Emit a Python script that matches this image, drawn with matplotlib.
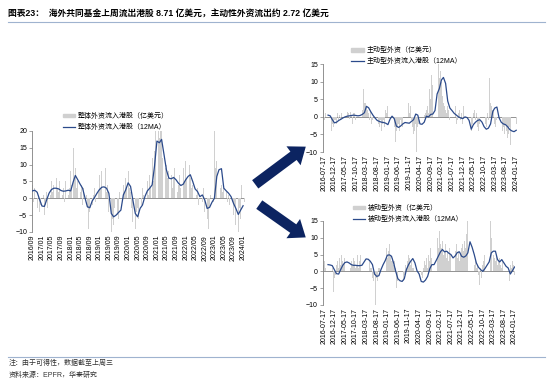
import numpy as np
import pandas as pd
import matplotlib
matplotlib.use("Agg")
import matplotlib.pyplot as plt
from matplotlib.patches import Patch, FancyArrowPatch
from matplotlib.lines import Line2D

plt.rcParams['font.family'] = ['Liberation Sans', 'Noto Sans CJK SC']

title = "图表23：  海外共同基金上周流出港股 8.71 亿美元，主动性外资流出约 2.72 亿美元"
note1 = "注：由于可得性，数据截至上周三"
note2 = "资料来源：EPFR，华泰研究"

# left chart: 整体外资, monthly 12MA from 2016/09, half-month bars
left_ma = [2.2, 2.4, 1.8, -0.3, -2.3, -2.4, -0.5, 1.5, 2.6, 3.0, 3.0, 2.8,
           2.3, 2.1, 2.2, 2.4, 2.2, 4.8, 6.8, 5.5, 4.2, 3.0, 0.2, -2.5,
           -2.8, -0.8, 0.3, 1.5, 2.6, 3.3, 3.4, 3.0, 1.5, -4.5, -5.5, -5.0,
           -4.2, -3.5, 1.0, 2.5, 4.6, 3.5, -0.5, -4.5, -5.5, -3.0, -2.0, 0.5,
           2.2, 3.0, 4.0, 9.5, 17.0, 16.5, 17.5, 13.0, 8.5, 6.0, 5.8, 6.2,
           5.5, 4.5, 3.8, 4.2, 5.5, 6.5, 7.0, 5.0, 2.8, 2.0, 0.5, 1.0,
           -0.5, -3.0, -2.7, -1.2, 0.0, 6.5, 8.5, 8.8, 3.0, 2.2, 1.5, 0.5,
           -1.5, -3.0, -4.8, -3.5, -2.2]
left_bar = [4, -1, 3, 2, -3, 1, -4, -2, -9, 1, -5, -2, 2, -3, 3, 1, 5, 2, 4, 1,
            6, 3, 2, 5, 4, 1, 3, -1, 5, 2, 1, 3, 8, 4, 15, 6, 9, 3, 5, 7,
            2, 4, -2, 3, -5, 1, -3, -9, -4, 2, -2, 1, 3, -1, 4, 2, 7, 3, 8, 2,
            5, 9, 2, 4, -4, 1, -10, -6, -8, -3, -9, -5, -6, 2, 1, -2, 4, 2, 6, 3,
            8, 3, 2, -3, -7, -10, -9, -4, -3, -6, 1, -2, 3, 1, 4, 2, 5, 1, 7, 3,
            12, 5, 14, 20, 22, 20, 18, 22, 20, 12, 15, 9, 10, 6, 8, 4, 7, 3, 6, 9,
            5, 2, 4, 7, 3, 6, 9, 5, 11, 6, 8, 10, 6, 3, 4, 2, 5, 1, 3, -2,
            2, 1, -1, 3, -4, -2, -6, -9, -3, 1, 2, -1, 20, 9, 11, 6, 7, 3, 4, 2,
            3, 1, 2, -1, 1, -2, -3, -1, -5, -2, -8, -4, -10, -3, -6, 4, -3, -1]
left_ticks = ["2016/09", "2017/01", "2017/05", "2017/09", "2018/01", "2018/05",
              "2018/09", "2019/01", "2019/05", "2019/09", "2020/01", "2020/05",
              "2020/09", "2021/01", "2021/05", "2021/09", "2022/01", "2022/05",
              "2022/09", "2023/01", "2023/05", "2023/09", "2024/01"]

# top right: 主动型外资, bars monthly pairs from 2016-07, line from 2016-09
act_ma = [0.5, 0.3, -0.8, -1.7, -1.5, -1.0, -0.7, -0.3, 0.0, 0.2,
          0.3, 0.4, 0.5, 0.4, 0.3, 0.4, 0.7, 1.2, 3.0, 2.6, 1.5, 0.5,
          -0.3, -1.0, -1.3, -1.5, -1.6, -1.8, -2.2, -0.6, 0.2, -0.5, -2.6, -3.0,
          -2.6, -2.0, -1.6, -1.7, -1.8, -1.3, -0.8, 0.8, 0.5, -2.0, -2.1, -1.5,
          0.2, 0.0, 0.7, 0.8, 1.8, 6.5, 8.0, 10.5, 11.2, 9.5, 4.5, 2.5,
          1.8, 1.0, 0.5, 0.0, -0.3, -0.5, 0.0, -0.2, -1.0, -3.5, -2.2, -1.5,
          -1.0, -0.8, -1.5, -2.8, -3.5, -3.2, -2.0, 1.5, 2.5, 2.8, -0.2, -1.5,
          -2.0, -2.2, -2.8, -3.6, -4.0, -4.2, -3.8]
act_bar = [1, 2, -1, 1, 2, -1, -2, 0.5, -4, -2, -3, -1, -1, -2, 1, -1, 0.5, -0.5, 1, 0.5,
           2, 1, 0.5, 1.5, 1, -0.5, 1.5, 0.5, -2, 1, 1, -1, 2, 0.5, 1, -1,
           3, 2, 8, 4, 4, 3, 2, 1, -1, 1.5, -2, -1, -3, -2, -4, -1, -2, -3,
           -1, -4, -2, -1, -3, 2, 1, 3, 2, -1, -4, -2, -5, -3, -7, -4, -3, -2,
           -4, -1, -2, -3, -1, -2, 1, -2, 4, 1, 3, -1, -3, -5, -4, -2, -10, -3,
           -2, 1, 1, -1, 2, 0.5, 1, 2, 3, 1, 8, 5, 12, 9, 15, 10, 14, 15,
           15, 11, 13, 10, 6, 4, 3, 2, 1, 3, 2, -1, 1, -1, -1, 2, 3, -2,
           -1, 1, 2, -1, 1, -2, 3, -1, -4, -2, -8, -5, -10, -4, -2, 1, 2, -1,
           1, -3, -4, -2, -5, -3, -4, -6, -2, -3, 1, -1, 11, 4, 3, 2, 2, -2,
           -3, -1, -2, -4, -3, -2, -4, -3, -5, -2, -4, -6, -5, -3, -8, -4, -5, -3,
           -4, -2]

# bottom right: 被动型外资
pas_ma = [2.0, 1.9, 1.7, 0.5, -0.7, -0.8, 0.5, 1.8, 2.6, 2.8,
          2.5, 2.0, 1.8, 1.8, 1.7, 1.7, 1.8, 2.8, 3.7, 3.6, 3.0, 2.0,
          -0.8, -1.5, -1.3, 0.5, 2.0, 3.2, 4.8, 4.9, 4.5, 2.5, 0.0, -2.2,
          -2.8, -3.0, -2.2, 0.5, 2.0, 3.0, 3.8, 2.5, 0.2, -0.8, -3.0, -3.2,
          -2.6, -1.5, 0.8, 2.0, 2.0, 3.2, 4.5, 5.8, 6.5, 5.8, 6.0, 5.4,
          5.0, 4.0, 4.6, 5.6, 5.8, 4.5, 4.2, 4.6, 5.5, 8.8, 7.2, 5.0,
          2.5, 1.2, 0.5, 0.0, 0.8, 1.8, 2.8, 5.5, 6.0, 6.0, 3.5, 2.8,
          3.5, 2.5, 1.5, 1.0, -0.8, 0.2, 1.3]
pas_bar = [4, 2, 3, 1, 2, 3, 1, -1, -2, 1, -6, -2, -1, 2, 3, 1, 4, 2, 5, 3,
           2, 4, 3, 1, 2, -1, 1, 3, 2, 4, 3, 1, 2, 5, 1, 3,
           5, 4, 10, 6, 6, 3, 4, 2, 3, 1, 1, -2, -3, -1, -10, -2, -3, 1, 1, 2,
           3, 2, 4, 5, 7, 4, 6, 8, 5, 3, 4, 2, 3, 1, -5, -3, -9, -4, -6, -2,
           -3, -1, 2, 1, 3, 5, 4, 2, 3, 1, 1, -3, -6, -8, -7, -2, -3, -1, -2, 1,
           3, 2, 4, 1, 5, 3, 7, 4, 8, 5, 9, 6, 10, 7, 12, 8, 7, 9, 5, 6,
           8, 4, 6, 3, 7, 5, 4, 2, 5, 6, 8, 4, 6, 3, 5, 7, 8, 6, 9, 7,
           11, 15, 12, 8, 9, 5, 4, 2, 3, 1, 2, -1, -4, 1, -2, 2, 3, 5, 4, 3,
           9, 6, 15, 10, 8, 5, 4, 3, 5, 2, 3, 4, 2, 1, 3, -1, -2, 1, -4, -1,
           -3, 2, 1, 3, 2, -1]
right_ticks = ["2016-07-17", "2016-12-17", "2017-05-17", "2017-10-17", "2018-03-17",
               "2018-08-17", "2019-01-17", "2019-06-17", "2019-11-17", "2020-04-17",
               "2020-09-17", "2021-02-17", "2021-07-17", "2021-12-17", "2022-05-17",
               "2022-10-17", "2023-03-17", "2023-08-17", "2024-01-17"]

bar_c = "#d0d0d0"
line_c = "#2b4a8b"
navy = "#0c2461"


def half_month(start, n):
    m = pd.date_range(start, periods=n, freq="MS")
    out = []
    for d in m:
        out.append(d)
        out.append(d + pd.Timedelta(days=15))
    return out


def style(ax, ylim, yticks):
    ax.set_ylim(*ylim)
    ax.set_yticks(yticks)
    for s in ["top", "right", "bottom"]:
        ax.spines[s].set_visible(False)
    ax.spines["left"].set_color("#808080")
    ax.spines["left"].set_linewidth(0.6)
    ax.axhline(0, color="#808080", lw=0.6, zorder=1)
    ax.tick_params(axis="y", labelsize=5, length=2, width=0.5, color="#808080", pad=1.5)
    ax.tick_params(axis="x", labelsize=5, length=0, pad=2, rotation=90)


def add_legend(ax, labels, anchor):
    ax.legend([Patch(color=bar_c), Line2D([], [], color=line_c, lw=0.9)], labels,
              loc="lower left", bbox_to_anchor=anchor, bbox_transform=fig.transFigure,
              frameon=False, fontsize=5, handlelength=1.8, handleheight=0.4,
              labelspacing=0.55, borderpad=0, handletextpad=0.4)


fig = plt.figure(figsize=(5.5, 3.86), dpi=100)

# left
ax1 = fig.add_axes([0.058, 0.399, 0.387, 0.2617])
lx = half_month("2016-09-01", len(left_bar) // 2)
ax1.bar(lx, left_bar, width=10, color=bar_c, lw=0, zorder=2)
lmx = pd.date_range("2016-09-01", periods=len(left_ma), freq="MS")
ax1.plot(lmx, left_ma, color=line_c, lw=0.9, zorder=3)
ax1.set_xlim(pd.Timestamp("2016-08-26"), pd.Timestamp("2024-01-22"))
ax1.set_xticks(pd.to_datetime([t.replace("/", "-") + "-01" for t in left_ticks]))
ax1.set_xticklabels(left_ticks)
style(ax1, (-10, 20), [-10, -5, 0, 5, 10, 15, 20])
add_legend(ax1, ["整体外资流入港股（亿美元）", "整体外资流入港股（12MA）"], (0.108, 0.652))

# right panels
rx = half_month("2016-07-01", len(act_bar) // 2)
rmx = pd.date_range("2016-09-01", periods=len(act_ma), freq="MS") + pd.Timedelta(days=16)
rtx = pd.to_datetime(right_ticks)

ax2 = fig.add_axes([0.587, 0.606, 0.353, 0.228])
ax2.bar(rx, act_bar, width=10, color=bar_c, lw=0, zorder=2)
ax2.plot(rmx, act_ma, color=line_c, lw=0.9, zorder=3)
ax2.set_xlim(pd.Timestamp("2016-07-05"), pd.Timestamp("2024-01-28"))
ax2.set_xticks(rtx)
ax2.set_xticklabels(right_ticks)
style(ax2, (-10, 15), [-10, -5, 0, 5, 10, 15])
add_legend(ax2, ["主动型外资（亿美元）", "主动型外资流入港股（12MA）"], (0.632, 0.822))

ax3 = fig.add_axes([0.587, 0.21, 0.35, 0.2176])
ax3.bar(rx, pas_bar, width=10, color=bar_c, lw=0, zorder=2)
ax3.plot(rmx, pas_ma, color=line_c, lw=0.9, zorder=3)
ax3.set_xlim(pd.Timestamp("2016-07-05"), pd.Timestamp("2024-01-28"))
ax3.set_xticks(rtx)
ax3.set_xticklabels(right_ticks)
style(ax3, (-10, 15), [-10, -5, 0, 5, 10, 15])
add_legend(ax3, ["被动型外资（亿美元）", "被动型外资流入港股（12MA）"], (0.635, 0.414))

# arrows
for p0, p1 in [((253, 186), (308, 145)), ((257, 203), (308, 239))]:
    a = FancyArrowPatch((p0[0] / 550, 1 - p0[1] / 386), (p1[0] / 550, 1 - p1[1] / 386),
                        transform=fig.transFigure, color=navy, lw=0,
                        arrowstyle="simple,head_width=1.7,head_length=1.1,tail_width=0.75",
                        mutation_scale=10)
    fig.patches.append(a)

# title, rules, notes
fig.text(0.015, 0.963, title, fontsize=6.3, fontweight="bold", va="center")
fig.add_artist(Line2D([0.015, 0.99], [0.943, 0.943], color="#9fb3cf", lw=0.8))
fig.add_artist(Line2D([0.015, 0.99], [0.075, 0.075], color="#9fb3cf", lw=0.8))
fig.text(0.015, 0.058, note1, fontsize=5, color="#333333", va="center")
fig.text(0.015, 0.028, note2, fontsize=5, color="#333333", va="center")

fig.savefig("out.png", dpi=100)
